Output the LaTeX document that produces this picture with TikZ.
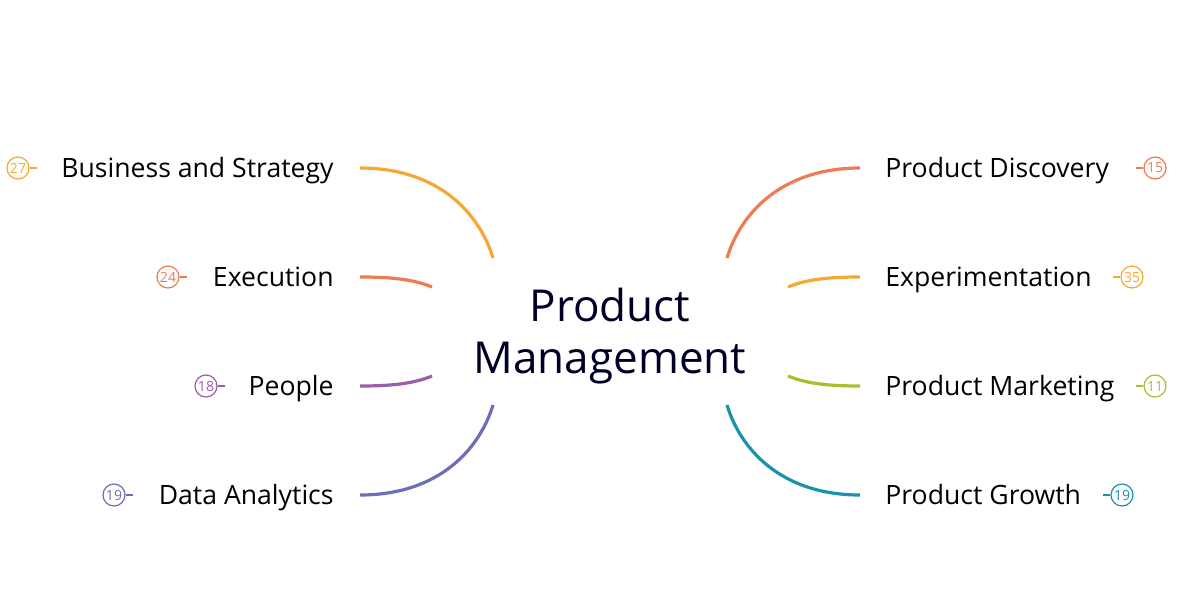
\documentclass[tikz,border=0pt]{standalone}
\usepackage{fontspec}
\setmainfont{Open Sans}
\definecolor{cOr}{HTML}{F5A833}
\definecolor{cCo}{HTML}{EF7B55}
\definecolor{cPu}{HTML}{9B5FA8}
\definecolor{cIn}{HTML}{6E6DB8}
\definecolor{cGr}{HTML}{A8C030}
\definecolor{cTe}{HTML}{1A93AA}
\begin{document}
\begin{tikzpicture}[x=0.5pt,y=-0.5pt,
  lbl/.style={font=\fontsize{13.3}{15}\selectfont, inner sep=0pt},
  cnt/.style={circle, draw=#1, text=#1, line width=0.6pt, minimum size=11pt, inner sep=0pt, font=\fontsize{7}{8}\selectfont},
  br/.style={draw=#1, line width=1.6pt},
  tk/.style={draw=#1, line width=0.8pt}]
\useasboundingbox (0,0) rectangle (1200,600);
\node[font=\fontsize{22}{26}\selectfont, align=center, text=black!85!blue] (c) at (610,336) {Product\\Management};
% left
\node[lbl, anchor=base east] (l1) at (334,177) {Business and Strategy};
\node[lbl, anchor=base east] (l2) at (334,286) {Execution};
\node[lbl, anchor=base east] (l3) at (334,395) {People};
\node[lbl, anchor=base east] (l4) at (334,504) {Data Analytics};
\node[cnt=cOr] (n1) at (18,168) {27};
\node[cnt=cCo] (n2) at (168,277) {24};
\node[cnt=cPu] (n3) at (206,386) {18};
\node[cnt=cIn] (n4) at (114,495) {19};
\coordinate (a1) at (360,168); \coordinate (b1) at (493,258);
\coordinate (a2) at (360,277); \coordinate (b2) at (432,287);
\coordinate (a3) at (360,386); \coordinate (b3) at (432,376);
\coordinate (a4) at (360,495); \coordinate (b4) at (493,405);
\draw[br=cOr] (a1) .. controls (440,168) and (480,215) .. (b1);
\draw[br=cCo] (a2) .. controls (395,277) and (415,280) .. (b2);
\draw[br=cPu] (a3) .. controls (395,386) and (415,383) .. (b3);
\draw[br=cIn] (a4) .. controls (440,495) and (480,448) .. (b4);
\draw[tk=cOr] (n1.east) -- ++(7,0);
\draw[tk=cCo] (n2.east) -- ++(7,0);
\draw[tk=cPu] (n3.east) -- ++(7,0);
\draw[tk=cIn] (n4.east) -- ++(7,0);
% right
\node[lbl, anchor=base west] (r1) at (885,177) {Product Discovery};
\node[lbl, anchor=base west] (r2) at (885,286) {Experimentation};
\node[lbl, anchor=base west] (r3) at (885,395) {Product Marketing};
\node[lbl, anchor=base west] (r4) at (885,504) {Product Growth};
\node[cnt=cCo] (m1) at (1155,168) {15};
\node[cnt=cOr] (m2) at (1132,277) {35};
\node[cnt=cGr] (m3) at (1155,386) {11};
\node[cnt=cTe] (m4) at (1122,495) {19};
\coordinate (p1) at (860,168); \coordinate (q1) at (727,258);
\coordinate (p2) at (860,277); \coordinate (q2) at (788,287);
\coordinate (p3) at (860,386); \coordinate (q3) at (788,376);
\coordinate (p4) at (860,495); \coordinate (q4) at (727,405);
\draw[br=cCo] (p1) .. controls (780,168) and (740,215) .. (q1);
\draw[br=cOr] (p2) .. controls (825,277) and (805,280) .. (q2);
\draw[br=cGr] (p3) .. controls (825,386) and (805,383) .. (q3);
\draw[br=cTe] (p4) .. controls (780,495) and (740,448) .. (q4);
\draw[tk=cCo] (m1.west) -- ++(-7,0);
\draw[tk=cOr] (m2.west) -- ++(-7,0);
\draw[tk=cGr] (m3.west) -- ++(-7,0);
\draw[tk=cTe] (m4.west) -- ++(-7,0);
\end{tikzpicture}
\end{document}
